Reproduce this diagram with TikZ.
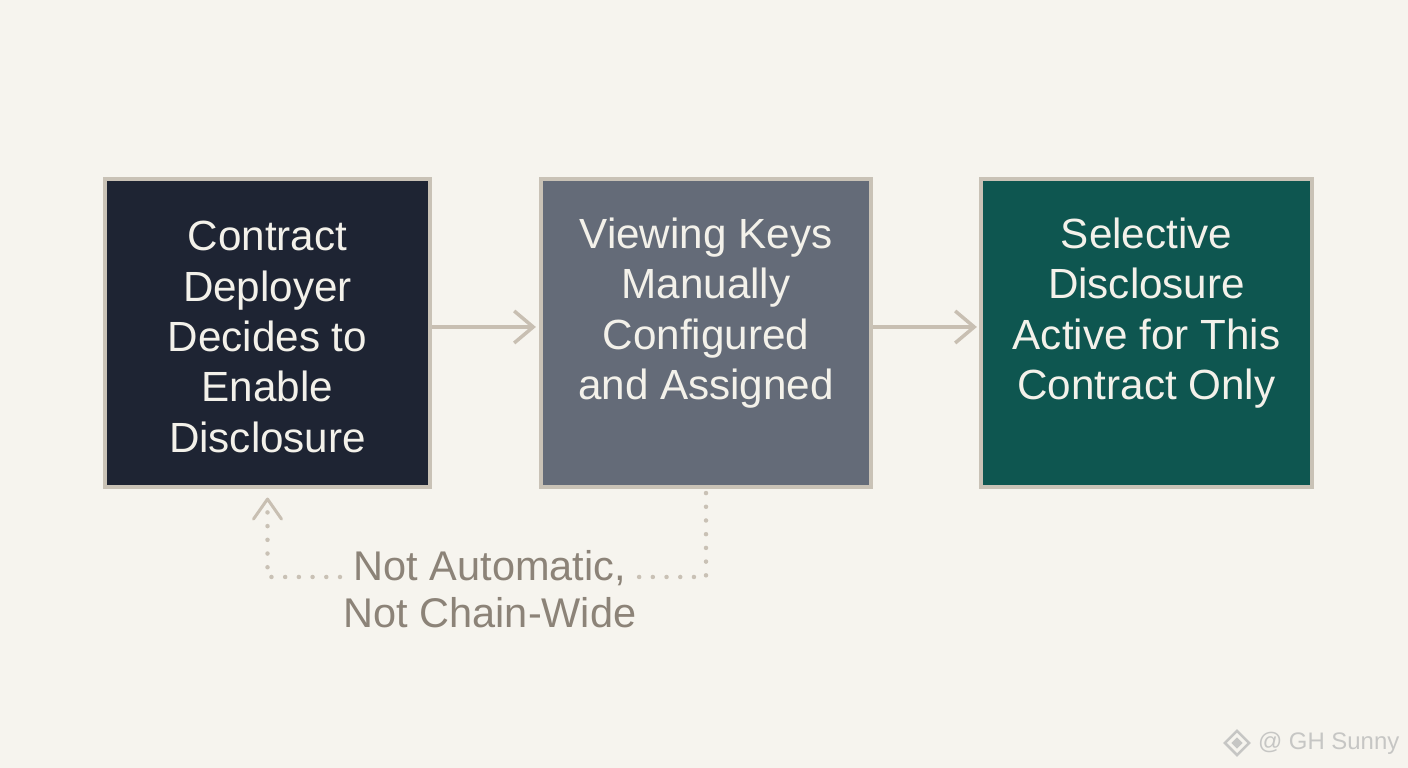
\documentclass[tikz,border=0pt]{standalone}
\usepackage{fontspec}
\setmainfont{Liberation Sans}
\usetikzlibrary{arrows.meta,calc}
\definecolor{bg}{HTML}{F6F4EE}
\definecolor{edge}{HTML}{C9C2B6}
\definecolor{navy}{HTML}{1E2433}
\definecolor{slate}{HTML}{646B78}
\definecolor{teal}{HTML}{0E5650}
\definecolor{boxtxt}{HTML}{F3F1EA}
\definecolor{arr}{HTML}{C8BFB2}
\definecolor{dotc}{HTML}{C9C1B5}
\definecolor{lbl}{HTML}{8C8378}
\definecolor{wm}{HTML}{C6C6C4}
\tikzset{
  stepbox/.style={draw=edge, line width=0.04cm, minimum height=3.08cm, inner sep=0pt},
  boxlabel/.style={text=boxtxt, align=center, font=\fontsize{12}{14.3}\selectfont, inner sep=0pt},
  flowarrow/.style={draw=arr, line width=0.035cm, -{Straight Barb[length=0.19cm,width=0.32cm,line width=0.035cm]}},
  dotline/.style={draw=dotc, line width=0.045cm, line cap=round, dash pattern=on 0pt off 0.137cm},
  notelabel/.style={text=lbl, align=center, font=\fontsize{11.8}{13.4}\selectfont, inner sep=0pt}
}
\begin{document}
\begin{tikzpicture}[x=0.01cm, y=-0.01cm]
\fill[bg] (0,0) rectangle (1408,768);
\useasboundingbox (0,0) rectangle (1408,768);

\node[stepbox, fill=navy, minimum width=3.25cm] (b1) at (267.5,333) {};
\node[stepbox, fill=slate, minimum width=3.30cm] (b2) at (706,333) {};
\node[stepbox, fill=teal, minimum width=3.31cm] (b3) at (1146.5,333) {};

\node[boxlabel] (t1) at (267.5,337) {Contract\\Deployer\\Decides to\\Enable\\Disclosure};
\node[boxlabel] (t2) at (706,313) {Viewing Keys\\Manually\\Configured\\and Assigned};
\node[boxlabel] (t3) at (1146.5,313) {Selective\\Disclosure\\Active for This\\Contract Only};

\draw[flowarrow, shorten >=0.03cm] ([yshift=0.06cm]b1.east) -- ([yshift=0.06cm]b2.west);
\draw[flowarrow, shorten >=0.02cm] ([yshift=0.06cm]b2.east) -- ([yshift=0.06cm]b3.west);

\node[notelabel] (note) at (490,589) {Not Automatic,\\Not Chain-Wide};
\coordinate (rEnd) at (636,577);
\coordinate (lStart) at (340,577);
\draw[dotline] ([yshift=-0.04cm]b2.south) |- (rEnd);
\draw[dotline] (lStart) -| ([yshift=-0.12cm]b1.south);
\draw[draw=arr, line width=0.03cm, line cap=round, line join=round]
  ([xshift=-0.14cm,yshift=-0.30cm]b1.south) -- ([yshift=-0.10cm]b1.south) -- ([xshift=0.14cm,yshift=-0.30cm]b1.south);

\node[text=wm, font=\fontsize{6.8}{8}\selectfont, anchor=east, inner sep=0pt] (wmtext) at (1400,743) {@ GH Sunny};
\node[draw=wm, line width=0.025cm, rotate=45, minimum size=0.17cm, inner sep=0pt] (wmlogo) at (1237,743) {};
\node[draw=wm, line width=0.02cm, rotate=45, minimum size=0.06cm, inner sep=0pt, fill=wm] (wmlogo2) at (1237,743) {};
\end{tikzpicture}
\end{document}
